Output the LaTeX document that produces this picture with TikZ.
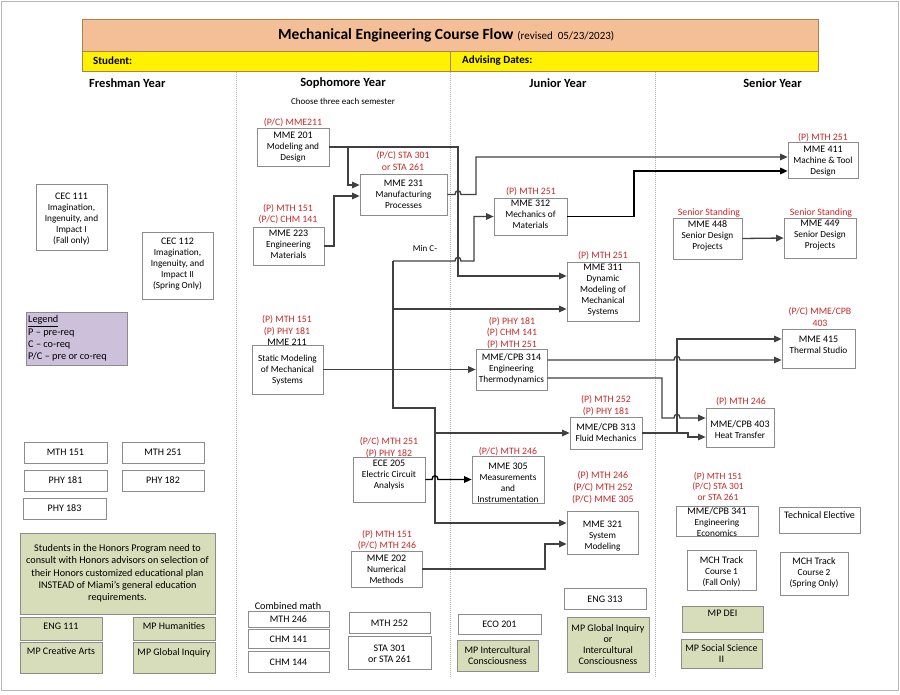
\documentclass[tikz,border=0pt]{standalone}
\usepackage{fontspec}
\setmainfont{Carlito}
\usetikzlibrary{arrows.meta}
\definecolor{cred}{RGB}{200,40,40}
\definecolor{corange}{RGB}{244,190,150}
\definecolor{cgreen}{RGB}{215,221,185}
\definecolor{clav}{RGB}{204,192,218}
\definecolor{cline}{RGB}{64,64,64}
\definecolor{cborder}{RGB}{140,140,140}
\definecolor{ctitleb}{RGB}{170,130,80}
\newcommand\fsz[2]{\fontsize{#1}{#2}\selectfont}
\newcommand\cc[1]{{\fsz{10}{11}#1}}
\newcommand\crs[8]{\node[#1,minimum width=#5pt,minimum height=#6pt] (#2) at (#3,#4) {};
  \node[intext] (#2-t) at (#3,#7) {#8};}
\newcommand\req[4]{\node[req] (#1) at (#2,#3) {#4};}
\begin{document}
\begin{tikzpicture}[x=1pt,y=-1pt,
  box/.style={draw=cborder,line width=0.7pt,fill=white,inner sep=0pt},
  gbox/.style={box,fill=cgreen},
  intext/.style={font=\fsz{9.3}{11},align=center,inner sep=0pt},
  req/.style={font=\fsz{9.8}{11.3},text=cred,align=center,inner sep=0pt},
  plain/.style={font=\fsz{9}{11},align=center,inner sep=0pt},
  conn/.style={draw=cline,line width=1.3pt,-{Triangle[length=7.5pt,width=6.5pt]}},
  divider/.style={draw=gray!60,line width=0.7pt,dash pattern=on 1pt off 1pt},
  yearhd/.style={font=\bfseries\fsz{12.5}{14},inner sep=0pt},
  bar/.style={draw=ctitleb,line width=0.8pt,inner sep=0pt,anchor=north west}
]
\useasboundingbox (0,0) rectangle (900,695);
\draw[gray!55,line width=1pt] (1.5,1.5) rectangle (898,690);

% header
\node[bar,fill=corange,minimum width=736pt,minimum height=32pt] (titlebar) at (82,19) {};
\node[bar,fill=yellow,minimum width=368pt,minimum height=20pt] (studbar) at (82,51) {};
\node[bar,fill=yellow,minimum width=368pt,minimum height=20pt] (advbar) at (450,51) {};
\node[anchor=west,inner sep=0pt,font=\bfseries\fsz{15.5}{18}] (ttl) at (278,35) {Mechanical Engineering Course Flow\hspace{4pt}{\mdseries\fsz{11}{13}(revised\ \ 05/23/2023)}};
\node[anchor=west,inner sep=0pt,font=\bfseries\fsz{11}{13}] (studt) at (93,61) {Student:};
\node[anchor=west,inner sep=0pt,font=\bfseries\fsz{11}{13}] (advt) at (462,61) {Advising Dates:};

\node[yearhd,anchor=west] (fy) at (89,83) {Freshman Year};
\node[yearhd] (soy) at (343,83) {Sophomore Year};
\node[yearhd] (jy) at (558,83) {Junior Year};
\node[yearhd] (sy) at (772.5,83) {Senior Year};
\node[plain,font=\fsz{9}{10}] (choose) at (343,101) {Choose three each semester};

\draw[divider] (236,72) -- (236,677);
\draw[divider] (450,72) -- (450,677);
\draw[divider] (655,72) -- (655,677);

% Freshman
\crs{box}{cec111}{71.5}{217}{71}{66}{219}{\cc{CEC 111}\\Imagination,\\Ingenuity, and\\Impact I\\(Fall only)}
\crs{box}{cec112}{177.5}{265.5}{71}{67}{264.5}{\cc{CEC 112}\\Imagination,\\Ingenuity, and\\Impact II\\(Spring Only)}
\node[box,fill=clav,minimum width=101pt,minimum height=53pt] (legend) at (76.5,338.5) {};
\node[anchor=west,align=left,inner sep=0pt,font=\fsz{10.3}{12.3}] (legend-t) at (28,338.5) {\underline{Legend}\\P – pre-req\\C – co-req\\P/C – pre or co-req};
\crs{box}{mth151}{65.5}{452.5}{83}{21}{452.5}{\cc{MTH 151}}
\crs{box}{mth251}{163}{452.5}{82}{21}{452.5}{\cc{MTH 251}}
\crs{box}{phy181}{65.5}{480.5}{83}{21}{480.5}{\cc{PHY 181}}
\crs{box}{phy182}{163}{480.5}{82}{21}{480.5}{\cc{PHY 182}}
\crs{box}{phy183}{64.5}{508.5}{83}{21}{508.5}{\cc{PHY 183}}
\node[gbox,minimum width=195pt,minimum height=81pt] (honors) at (117.5,573.5) {};
\node[intext,font=\fsz{10.2}{12.3}] (honors-t) at (honors.center) {Students in the Honors Program need to\\consult with Honors advisors on selection of\\their Honors customized educational plan\\INSTEAD of Miami’s general education\\requirements.};
\crs{gbox}{eng111}{61}{628.5}{82}{23}{626}{\cc{ENG 111}}
\crs{gbox}{mphum}{174}{628.5}{82}{23}{626}{\cc{MP Humanities}}
\crs{gbox}{mpca}{61}{657.5}{82}{31}{651}{\cc{MP Creative Arts}}
\crs{gbox}{mpgi}{174}{657.5}{82}{31}{653}{\cc{MP Global Inquiry}}

% Sophomore
\req{r201}{293}{122.5}{(P/C) MME211}
\crs{box}{mme201}{293}{147}{72}{38}{147}{\cc{MME 201}\\Modeling and\\Design}
\req{r231}{403}{161}{(P/C) STA 301\\or STA 261}
\crs{box}{mme231}{403.5}{194.5}{87}{41}{194}{\cc{MME 231}\\Manufacturing\\Processes}
\req{r223}{288}{214}{(P) MTH 151\\(P/C) CHM 141}
\crs{box}{mme223}{288.5}{246}{71}{38}{244}{\cc{MME 223}\\Engineering\\Materials}
\node[plain] (minc-t) at (425,248) {Min C-};
\node[req] (r211) at (287,330.5) {(P) MTH 151\\(P) PHY 181\\\textcolor{black}{\cc{MME 211}}};
\crs{box}{mme211}{287.5}{369.5}{71}{49}{370}{Static Modeling\\of Mechanical\\Systems}
\req{r205}{389}{447.5}{(P/C) MTH 251\\(P) PHY 182}
\crs{box}{ece205}{389}{479.5}{72}{45}{475.5}{\cc{ECE 205}\\Electric Circuit\\Analysis}
\req{r202}{387}{540}{(P) MTH 151\\(P/C) MTH 246}
\crs{box}{mme202}{386.5}{569}{71}{36}{569}{\cc{MME 202}\\Numerical\\Methods}
\node[plain,font=\fsz{10.2}{11}] (comb) at (288,606) {Combined math};
\crs{box}{mth246}{288.5}{619}{81}{16}{619}{\cc{MTH 246}}
\crs{box}{chm141}{288.5}{638.5}{81}{19}{639}{\cc{CHM 141}}
\crs{box}{chm144}{288.5}{661.5}{81}{21}{662}{\cc{CHM 144}}
\crs{box}{mth252}{389.5}{622.5}{81}{21}{623}{\cc{MTH 252}}
\crs{box}{sta301}{389.5}{652.5}{83}{33}{654}{\cc{STA 301}\\\cc{or STA 261}}

% Junior
\req{r312}{531}{191.5}{(P) MTH 251}
\crs{box}{mme312}{530.5}{216.5}{73}{37}{214.6}{\cc{MME 312}\\Mechanics of\\Materials}
\req{r311}{603}{256}{(P) MTH 251}
\crs{box}{mme311}{603}{291.5}{72}{59}{290}{\cc{MME 311}\\Dynamic\\Modeling of\\Mechanical\\Systems}
\req{r314}{512}{333}{(P) PHY 181\\(P) CHM 141\\(P) MTH 251}
\crs{box}{mme314}{511.5}{369.5}{71}{41}{369}{\cc{MME/CPB 314}\\Engineering\\Thermodynamics}
\req{r313}{606}{405.5}{(P) MTH 252\\(P) PHY 181}
\crs{box}{mme313}{606}{433}{72}{32}{433}{\cc{MME/CPB 313}\\Fluid Mechanics}
\req{r305}{508}{451.5}{(P/C) MTH 246}
\crs{box}{mme305}{508}{479.5}{72}{47}{482.5}{\cc{MME 305}\\Measurements\\and\\Instrumentation}
\node[req,font=\fsz{10}{12}] (r321) at (603,488) {(P) MTH 246\\(P/C) MTH 252\\(P/C) MME 305};
\crs{box}{mme321}{602.5}{532.5}{71}{43}{536}{\cc{MME 321}\\System\\Modeling}
\crs{box}{eng313}{605}{598.5}{82}{21}{599}{\cc{ENG 313}}
\crs{box}{eco201}{499.5}{624}{83}{20}{624}{\cc{ECO 201}}
\crs{gbox}{mpic}{497.5}{655.5}{81}{31}{656}{\cc{MP Intercultural}\\\cc{Consciousness}}
\crs{gbox}{mpgi2}{608}{644.5}{82}{55}{645}{\cc{MP Global Inquiry}\\\cc{or}\\\cc{Intercultural}\\\cc{Consciousness}}

% Senior
\req{r411}{823}{138}{(P) MTH 251}
\crs{box}{mme411}{823}{160}{70}{36}{161}{\cc{MME 411}\\Machine \& Tool\\Design}
\req{r448}{709}{212.5}{Senior Standing}
\crs{box}{mme448}{707.5}{238.5}{69}{41}{235.5}{\cc{MME 448}\\Senior Design\\Projects}
\req{r449}{821}{212.5}{Senior Standing}
\crs{box}{mme449}{820}{238}{72}{40}{235.5}{\cc{MME 449}\\Senior Design\\Projects}
\req{r415}{820}{317}{(P/C) MME/CPB\\403}
\crs{box}{mme415}{818.5}{348.5}{73}{39}{344.5}{\cc{MME 415}\\Thermal Studio}
\req{r403}{741}{401.5}{(P) MTH 246}
\crs{box}{mme403}{740}{427.5}{68}{39}{429.5}{\cc{MME/CPB 403}\\Heat Transfer}
\node[req,font=\fsz{9.5}{10.5}] (r341) at (718,486.5) {(P) MTH 151\\(P/C) STA 301\\or STA 261};
\crs{box}{mme341}{717}{521}{82}{30}{522}{\cc{MME/CPB 341}\\Engineering\\Economics}
\crs{box}{techel}{819.5}{520}{81}{26}{515}{\cc{Technical Elective}}
\crs{box}{mch1}{721.5}{570}{69}{40}{571.5}{\cc{MCH Track}\\Course 1\\(Fall Only)}
\crs{box}{mch2}{814}{573.5}{68}{43}{572.5}{\cc{MCH Track}\\Course 2\\(Spring Only)}
\crs{gbox}{mpdei}{722.5}{619}{81}{26}{613}{\cc{MP DEI}}
\crs{gbox}{mpss}{721.5}{653.5}{81}{29}{654}{\cc{MP Social Science}\\\cc{II}}

% connectors
\coordinate (minc) at (393,261);
\coordinate (j1) at (393,408);
\coordinate (j2) at (435,408);
\draw[conn] (mme201.east) -- (348,147) -- (348,185) -- (mme231.west |- 0,185);
\draw[conn] (mme201.east) -- (458,147) -- (458,276) -- (mme311.west |- 0,276);
\draw[conn] (mme223.east) -- (334,246) -- (334,196) -- (mme231.west |- 0,196);
\draw[conn] (mme231.east) -- (455,194.5) .. controls (455,189.5) and (461,189.5) .. (461,194.5) -- (476,194.5) -- (476,157) -- (mme411.west |- 0,157);
\draw[conn,draw=black,line width=1.6pt] (mme312.east) -- (634,216.5) -- (634,171) -- (mme411.west |- 0,171);
\draw[conn] (minc) -- (455,261) .. controls (455,256) and (461,256) .. (461,261) -- (474,261) -- (474,216.5) -- (mme312.west);
\draw[conn] (minc) -- (393,309) -- (mme311.west |- 0,309);
\draw[conn] (minc) -- (j1) -- (j2) -- (435,433) -- (mme313.west);
\draw[conn] (j2) -- (435,523) -- (mme321.west |- 0,523);
\draw[conn] (mme211.east) -- (mme314.west);
\draw[conn,draw=black] (ece205.east) -- (432,479.5) .. controls (432,474.5) and (438,474.5) .. (438,479.5) -- (mme305.west);
\draw[conn] (mme202.east) -- (545,569) -- (545,544) -- (mme321.west |- 0,544);
\draw[conn] (mme314.east |- 0,360) -- (674,360) .. controls (674,355) and (680,355) .. (680,360) -- (mme415.west |- 0,360);
\draw[conn] (mme314.east |- 0,378) -- (662,378) -- (662,418) -- (674,418) .. controls (674,413) and (680,413) .. (680,418) -- (mme403.west |- 0,418);
\draw[conn] (mme313.east) -- (677,433) -- (677,339) -- (mme415.west |- 0,339);
\draw[conn] (mme313.east) -- (688,433) -- (688,437) -- (mme403.west |- 0,437);
\draw[conn] (mme448.east) -- (mme449.west);
\end{tikzpicture}
\end{document}
